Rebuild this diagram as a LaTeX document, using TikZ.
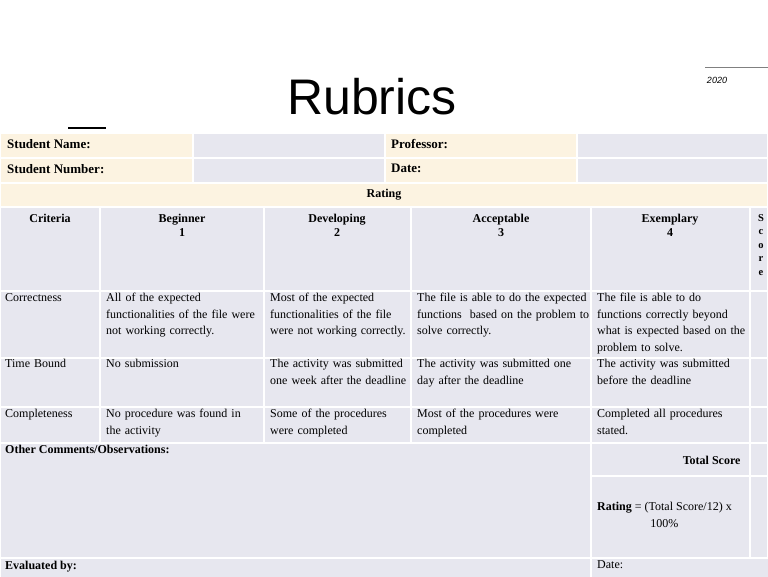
\documentclass[tikz,border=0pt]{standalone}
\usepackage{fontspec}
\setmainfont{Liberation Serif}
\newfontfamily\hsans{Liberation Sans}
\hyphenpenalty=10000
\exhyphenpenalty=10000
\begin{document}
\begin{tikzpicture}[x=1pt,y=-1pt,
  cream/.style={fill=creamc,draw=white,line width=1.5pt},
  grey/.style={fill=greyc,draw=white,line width=1.5pt},
  txt/.style={anchor=north west,align=left,font=\fontsize{12}{16.5}\selectfont,inner sep=0pt,text width=#1},
  txt/.default=150pt,
  bold/.style={anchor=north west,font=\fontsize{12}{14}\selectfont\bfseries,inner sep=0pt},
  hdr/.style={font=\fontsize{12}{14}\selectfont\bfseries,align=center,anchor=north}]
\definecolor{creamc}{HTML}{FCF3E1}
\definecolor{greyc}{HTML}{E7E7EF}
\useasboundingbox (0,0) rectangle (768,576);
\fill[white] (0,0) rectangle (768,576);
% title
\node (title) at (372,97) {\hsans\fontsize{50}{50}\selectfont Rubrics};
\draw[line width=0.6pt,gray] (705,67) -- (768,67);
\node (yr) at (717,80) {\hsans\itshape\fontsize{9}{9}\selectfont 2020};
\draw[line width=2pt] (68,128) -- (106,128);
% info rows
\draw[cream] (0,133) rectangle (193,158);
\draw[grey] (193,133) rectangle (385,158);
\draw[cream] (385,133) rectangle (577,158);
\draw[grey] (577,133) rectangle (768,158);
\draw[cream] (0,158) rectangle (193,183);
\draw[grey] (193,158) rectangle (385,183);
\draw[cream] (385,158) rectangle (577,183);
\draw[grey] (577,158) rectangle (768,183);
\draw[cream] (0,183) rectangle (768,207);
\node[bold,font=\fontsize{13}{14}\selectfont\bfseries] (sn) at (7,139) {Student Name:};
\node[bold,font=\fontsize{13}{14}\selectfont\bfseries] (snum) at (7,164) {Student Number:};
\node[bold,font=\fontsize{13}{14}\selectfont\bfseries] (prof) at (391,139) {Professor:};
\node[bold,font=\fontsize{13}{14}\selectfont\bfseries] (date) at (391,164) {Date:};
\node[font=\fontsize{12}{14}\selectfont\bfseries] (rating) at (384,195) {Rating};
% grid cells
\foreach \ya/\yb in {207/291,291/358,358/407,407/443}{
  \foreach \xa/\xb in {0/100,100/264,264/411,411/591,591/750,750/768}{
    \draw[grey] (\xa,\ya) rectangle (\xb,\yb);}}
\draw[grey] (0,443) rectangle (591,558);
\draw[grey] (591,443) rectangle (750,476);
\draw[grey] (750,443) rectangle (768,476);
\draw[grey] (591,476) rectangle (750,558);
\draw[grey] (750,476) rectangle (768,558);
\draw[grey] (0,558) rectangle (591,578);
\draw[grey] (591,558) rectangle (770,578);
% header
\node[hdr] (hc) at (50,211) {Criteria};
\node[hdr] (h1) at (182,211) {Beginner\\1};
\node[hdr] (h2) at (337,211) {Developing\\2};
\node[hdr] (h3) at (501,211) {Acceptable\\3};
\node[hdr] (h4) at (670,211) {Exemplary\\4};
\node[hdr,font=\fontsize{10.5}{13.5}\selectfont\bfseries] (hs) at (761,211) {S\\c\\o\\r\\e};
% rows
\node[txt] (c0) at (5,293) {Correctness};
\node[txt=150pt] (c1) at (106,293) {All of the expected functionalities of the file were not working correctly.};
\node[txt=138pt] (c2) at (270,293) {Most of the expected functionalities of the file were not working correctly.};
\node[txt=174pt] (c3) at (417,293) {The file is able to do the expected functions \ based on the problem to solve correctly.};
\node[txt=150pt] (c4) at (597,293) {The file is able to do functions correctly beyond what is expected based on the problem to solve.};
\node[txt] (t0) at (5,359) {Time Bound};
\node[txt=150pt] (t1) at (106,359) {No submission};
\node[txt=138pt] (t2) at (270,359) {The activity was submitted one week after the deadline};
\node[txt=174pt] (t3) at (417,359) {The activity was submitted one day after the deadline};
\node[txt=150pt] (t4) at (597,359) {The activity was submitted before the deadline};
\node[txt] (p0) at (5,409) {Completeness};
\node[txt=150pt] (p1) at (106,409) {No procedure was found in the activity};
\node[txt=138pt] (p2) at (270,409) {Some of the procedures were completed};
\node[txt=160pt] (p3) at (417,409) {Most of the procedures were completed};
\node[txt=135pt] (p4) at (597,409) {Completed all procedures stated.};
\node[bold] (oc) at (5,445) {Other Comments/Observations:};
\node[font=\fontsize{12}{14}\selectfont\bfseries,anchor=east] (ts) at (744,460) {Total Score};
\node[font=\fontsize{12}{17}\selectfont,align=center,anchor=north west,inner sep=0pt] (rf) at (597,502) {\textbf{Rating} = (Total Score/12) x\\100\%};
\node[bold] (ev) at (5,561) {Evaluated by:};
\node[txt] (dt) at (597,560) {Date:};
\end{tikzpicture}
\end{document}
